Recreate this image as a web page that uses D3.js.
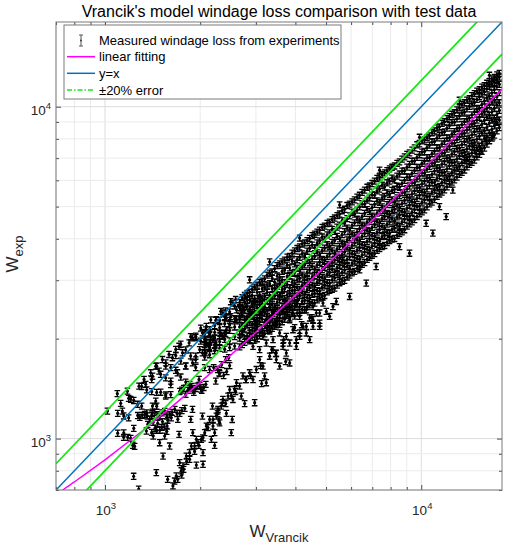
<!DOCTYPE html>
<html>
<head>
<meta charset="utf-8">
<script src="https://cdn.jsdelivr.net/npm/d3@7"></script>
<style>
  body { margin: 0; background: #fff; }
  text { font-family: "Liberation Sans", Arial, Helvetica, sans-serif; }
</style>
</head>
<body>
<svg id="chart" width="514" height="550"></svg>
<script>
// ---- data ----
const axisDomain = [700, 18000]
const majorTicks = [1000, 10000]
const errFrac = 0.021   // half height of each error bar, relative

const legendLabels = ['Measured windage loss from experiments', 'linear fitting', 'y=x', '\u00b120% error']

const identityLine = [[700, 700], [18000, 18000]]
const upperErrLine = [[700, 840], [18000, 21600]]
const lowerErrLine = [[700, 560], [18000, 14400]]
const fitLine = [[735, 700], [800, 740], [1000, 863], [1300, 1047], [1700, 1293], [2200, 1600], [3000, 2091],
    [4000, 2705], [5500, 3626], [7500, 4854], [10000, 6389], [13500, 8538], [18000, 11301]]

// sparse points left of the dense band (W_Vrancik, W_exp)
const scatterLeft = [
    [1018,1210],[1094,1366],[1121,1277],[1177,1390],[1206,1313],[1135,1210],[1281,1439],[1329,1508],[1345,1457],
    [1395,1579],[1413,1542],[1447,1653],[1482,1597],[1519,1731],[1556,1653],[1594,1793],[1634,1753],[1674,1856],
    [1715,1898],[1758,1814],[1845,1943],[1891,2012],[1936,2035],[2033,2084],[2084,1989],
    [1413,1253],[1447,1297],[1556,1343],[1614,1490],[1694,1579],[1800,1653],[1891,1692],[1936,1771],[2033,1814],
    [2134,1898],[2240,1943],[2353,2035],
    [1288,1159],[1335,1183],[1385,1143],[1437,1200],[1490,1167],[1545,1208],[1603,1183],[1662,1225],[1723,1191],
    [1788,1233],[1365,1104],[1468,1112],[1579,1135],[1699,1143],[1512,1081],[1457,1059],[1405,1044],[1568,1052],
    [1310,1175],[1360,1170],[1410,1190],[1460,1180],[1515,1195],[1570,1170],[1630,1200],[1690,1190],[1750,1215],
    [1420,1120],[1520,1125],[1620,1155],[1440,1075],[1490,1060],[1540,1085],
    [1723,1387],[1774,1416],[1827,1397],[1881,1436],[1936,1416],[1994,1446],[2053,1426],[1800,1359],[1909,1378],
    [2023,1397],[2084,1457],[1853,1457],[1750,1400],[1850,1420],[1960,1440],[2010,1410],[1900,1400],
    [1146,1009],[1180,1009],[1206,1002],[1224,955],[1241,948],[1232,770],[1278,704],
    [1715,1030],[1867,1143],[1891,1225],[2033,1169],[2187,1253],[2270,1210],[2295,1130],[2353,1283],[2240,1490],
    [2295,1579],[1983,1508]
]

// more points in the strip around y=x at the low end
const scatterLeft2 = [
    [1097,1192],[1097,1038],[1146,1170],[1146,1040],[1188,1322],[1188,1155],[1233,1303],[1233,1074],[1269,1269],
    [1269,1174],[1306,1436],[1306,1253],[1355,1402],[1355,1196],[1405,1506],[1405,1386],[1405,1176],[1457,1653],
    [1457,1378],[1457,1252],[1500,1563],[1500,1380],[1556,1691],[1556,1524],[1556,1355],[1614,1637],[1614,1454],
    [1614,1357],[1674,1780],[1674,1607],[1736,1925],[1736,1712],[1736,1533],[1800,1850],[1800,1656],[1800,1480],
    [1866,2028],[1866,1775],[1936,2017],[1936,1727],[1936,1638],[2008,2153],[2008,1966],[2083,2126],[2083,1814],
    [2160,2280],[2160,1987],[2240,2270],[2240,1884],[2323,2418],[2323,2072],[2408,2425],[2408,2068],[2497,2585],
    [2497,2330],[2589,2625],[2589,2287]
]

// points around the middle of the band
const scatterMid = [
    [2092,2178],[2142,2081],[2250,2282],[2360,2390],[2420,2310],[2538,2561],[2604,2445],
    [1992,1854],[2092,1941],[2195,1987],[2304,2081],[2360,2033],[2420,2129],[2478,2204],[2604,2282],[2665,2335],
    [2730,2445],[2797,2500],[2866,2390],[2937,2561],[3083,2531],
    [2797,2282],[2937,2335],[3010,2229],[3083,2362],[3158,2445],[3236,2282],[3316,2500],[3398,2390],[3481,2204],
    [3566,2310],[3654,2417],[3744,2500],[3836,2282],[3929,2390],[4026,2531],[4125,2335],[4227,2178],[4331,2445],
    [4437,2310],[4546,2500],[4658,2390],[4772,2229],[4890,2561],[5010,2417],[5132,2335],[5258,2500],[5388,2590],
    [2866,1987],[2937,1897],[3010,2081],[3083,1854],[3158,2033],[3236,1941],[3316,2129],[3398,1987],[3481,1810],
    [3566,2081],[3654,1941],[3744,2033],[3836,1690],[3929,2129],[4026,1897],[4125,2033],[4331,2081],[4437,1987],
    [4546,2178],[4772,2178],
    [2271,1615],[2337,1671],[2408,1730],[2462,1754],[2478,1660],[2426,1593],[2372,1549],[2304,1571],[2206,1637],
    [2142,1615],[2066,1637]
]

// the lower, steeper branch of the cloud
const lowerBranch = [
    [1640,720],[1660,745],[1680,772],[1722,847],[1743,800],[1765,827],[1808,886],[1852,866],[1852,907],[1875,950],
    [1920,950],[1945,995],[1968,972],[2016,995],[2041,907],[2041,837],[2066,1042],[2092,1091],[2142,1142],[2169,995],
    [2195,1091],[2222,1042],[2250,1169],[2277,1224],[2304,1116],[2332,1253],[2360,1312],[2420,1191],[2449,1343],
    [2478,1406],[2508,1042],[2538,1312],[2570,1406],[2604,1474],[2665,1440],[2698,1343],[2730,1545],[2797,1507],
    [2866,1579],[2937,1507],[2973,1283],[3010,1615],[3083,1730],[3158,1653],[3197,1545],[3236,1474],[3316,1771],
    [3398,1854],[3481,1730],[3566,1653],[3654,1897],[3744,1810],[3836,1941],[4026,1987],[4125,2081],[4331,2178],
    [4546,2282],[4772,2390],
    [1453,790],[1526,886],[1489,972],[1544,1018],[1601,950],[1895,1042],[1572,1091],[1420,1018],[1352,1054],
    [1698,754],[1773,808],[1812,854],[1920,915],[1980,955],[2041,1005],[2116,1080],[2195,1142],[2271,1190],
    [2408,1275],[2508,1349],[2587,1387],[2784,1507],[2887,1550],[3106,1660],[3365,1854],[3464,1805],[3672,1987],
    [3978,2159],[4186,2204],[4511,2314],[1578,754],[1748,776],[1945,832],[2222,954],[2525,1142],[2764,1275],
    [3128,1465],[3726,1707]
]

// stray points on the band edges
const edgePoints = [
    [5935,2681],[6700,2941],[7200,3300],[8537,3790],[9181,3620],[10360,4455],[10880,4160],[11418,5000],[12580,5610],
    [11990,4665],[13860,6905],[14900,7230],[16030,7930],[17240,9000],[16820,8120],[14550,7570],[15460,7400],
    [5640,3456],[6383,3225],
    [4125,4020],[5519,5060],[7382,6440],[9873,8090],[13205,10460],[16423,12440],[3316,3410],[2866,3010]
]

// dense band: [W_Vrancik, W_exp, W_exp, ...]
const bandColumns = [
    [2066,1760,1850,1920,1990,2070],
    [2142,1790,1880,1950,2060,2130],
    [2222,1840,1910,2010,2090,2190],
    [2304,1870,1960,2040,2160,2270],
    [2390,1860,1990,2080,2220,2330],
    [2478,1880,1970,2120,2270,2410],
    [2570,1900,2030,2170,2300,2510],
    [2665,1890,2010,2060,2170,2290,2330,2480,2570],
    [2764,1950,2000,2140,2230,2280,2440,2580,2700],
    [2866,1970,2080,2120,2240,2370,2460,2620,2760],
    [2973,1980,2100,2200,2270,2420,2560,2640,2860],
    [3083,2040,2090,2250,2360,2420,2620,2710,2950],
    [3197,2070,2190,2240,2410,2500,2680,2860,3030],
    [3316,2110,2240,2310,2480,2610,2700,2930,3150],
    [3439,2180,2250,2420,2500,2690,2840,2960,3250],
    [3566,2210,2360,2440,2620,2710,2920,3060,3360],
    [3698,2290,2370,2550,2640,2830,2950,3220,3450],
    [3836,2310,2450,2540,2740,2850,3100,3270,3540],
    [3978,2340,2500,2610,2800,2930,3170,3360,3680],
    [4125,2400,2500,2700,2810,3040,3200,3520,3780],
    [4278,2440,2610,2720,2940,3070,3340,3550,3890],
    [4437,2530,2640,2850,2970,3220,3390,3740,4010],
    [4601,2560,2740,2870,3100,3240,3540,3760,4130],
    [4772,2650,2780,3000,3140,3400,3580,3940,4250],
    [4949,2700,2900,3030,3280,3440,3750,3990,4370],
    [5132,2800,2940,3170,3310,3600,3800,4170,4490],
    [5323,2840,3050,3180,3450,3620,3950,4210,4620],
    [5519,2950,3090,3330,3490,3790,4000,4400,4750],
    [5724,3000,3220,3370,3650,3840,4200,4460,4910],
    [5935,3110,3260,3530,3700,4030,4250,4690,5090],
    [6155,3190,3430,3590,3890,4090,4470,4750,5240],
    [6383,3310,3470,3760,3940,4290,4530,4990,5410],
    [6620,3390,3650,3820,4150,4370,4770,5080,5610],
    [6864,3520,3690,4000,4200,4570,4830,5310,5770],
    [7119,3610,3880,4070,4420,4650,5080,5410,5970],
    [7382,3740,3930,4260,4470,4860,5150,5650,6140],
    [7656,3820,4100,4310,4670,4920,5370,5730,6320],
    [7939,3950,4150,4500,4730,5140,5440,5970,6500],
    [8233,4010,4310,4530,4910,5170,5640,6020,6630],
    [8537,4150,4360,4720,4970,5400,5720,6270,6820],
    [8853,4260,4580,4810,5220,5510,6000,6410,7060],
    [9181,4440,4670,5050,5320,5770,6120,6700,7260],
    [9521,4570,4900,5150,5580,5900,6420,6860,7520],
    [9873,4760,5010,5410,5710,6180,6560,7170,7730],
    [10239,4890,5240,5510,5970,6310,6860,7330,7950],
    [10618,5100,5370,5790,6110,6610,7020,7660,8170],
    [11011,5250,5620,5910,6400,6770,7350,7850,8460],
    [11418,5460,5750,6200,6540,7080,7520,8190,8700],
    [11841,5620,6020,6340,6850,7250,7870,8400,9010],
    [12279,5850,6170,6640,7010,7590,8060,8780,9330],
    [12734,6020,6440,6790,7330,7760,8410,8980,9590],
    [13205,6260,6610,7110,7510,8120,8630,9380,9930],
    [13694,6450,6900,7280,7850,8320,9010,9630,10280],
    [14200,6710,7080,7610,8040,8690,9240,10030,10570],
    [14726,6910,7390,7800,8410,8910,9650,10300,10950],
    [15271,7190,7590,8150,8610,9300,9890,10720,11260],
    [15836,7510,8020,8460,9100,9640,10410,11090,11580],
    [16423,7900,8340,8930,9420,10140,10760,11530,11910],
    [17031,8220,8760,9230,9900,10470,11260,11840,12250],
    [17661,8650,9120,9750,10280,11030,11680,12290,12600]
]

// points sitting between the columns above
const bandColumns2 = [
    [2714,1920,2070,2100,2190,2360,2400,2520,2660],
    [2815,1990,2040,2200,2290,2330,2500,2610,2740],
    [2919,2020,2120,2210,2350,2400,2540,2700,2820],
    [3027,2000,2170,2220,2300,2480,2590,2760,2900],
    [3140,2080,2140,2290,2400,2550,2650,2830,2980],
    [3256,2120,2230,2340,2430,2600,2760,2900,3110],
    [3377,2150,2280,2400,2530,2650,2830,3040,3180],
    [3502,2230,2320,2470,2580,2760,2880,3090,3320],
    [3632,2250,2420,2500,2680,2810,3010,3190,3410],
    [3767,2350,2420,2580,2710,2910,3080,3330,3520],
    [3906,2380,2510,2650,2790,2960,3150,3430,3620],
    [4051,2390,2550,2680,2850,3010,3260,3460,3740],
    [4201,2450,2590,2750,2900,3110,3300,3600,3860],
    [4357,2500,2660,2810,3010,3170,3440,3670,3950],
    [4519,2570,2720,2900,3070,3300,3480,3830,4090],
    [4686,2620,2790,2960,3160,3340,3630,3890,4190],
    [4860,2680,2860,3060,3230,3470,3690,4050,4330],
    [5040,2770,2950,3130,3350,3540,3840,4110,4450],
    [5227,2820,3010,3230,3400,3680,3900,4270,4570],
    [5420,2900,3120,3280,3520,3730,4070,4340,4700],
    [5621,2980,3170,3400,3590,3880,4120,4530,4860],
    [5829,3070,3300,3470,3750,3970,4310,4600,5040],
    [6044,3160,3380,3610,3820,4140,4390,4810,5170],
    [6268,3260,3490,3700,3970,4200,4580,4880,5340],
    [6500,3350,3580,3840,4070,4400,4670,5100,5520],
    [6741,3470,3720,3930,4240,4500,4900,5230,5720],
    [6990,3570,3810,4090,4330,4680,4970,5430,5870],
    [7249,3690,3960,4190,4500,4780,5200,5580,6080],
    [7518,3790,4060,4360,4610,4990,5310,5800,6240],
    [7796,3900,4180,4430,4770,5070,5500,5900,6420],
    [8084,3990,4270,4590,4860,5240,5600,6090,6570],
    [8384,4100,4400,4660,5020,5310,5760,6180,6750],
    [8694,4200,4500,4830,5110,5510,5880,6400,6950],
    [9015,4370,4680,4950,5340,5660,6140,6580,7180],
    [9349,4500,4810,5170,5460,5900,6300,6850,7400],
    [9695,4670,5000,5300,5690,6060,6550,7040,7680],
    [10054,4820,5160,5540,5860,6320,6750,7300,7890],
    [10427,4990,5350,5660,6100,6490,7010,7530,8070],
    [10813,5160,5540,5910,6250,6750,7220,7830,8350],
    [11212,5370,5700,6100,6540,6960,7510,8060,8630],
    [11627,5530,5920,6320,6720,7250,7730,8360,8910],
    [12058,5740,6100,6500,7000,7450,8040,8620,9210],
    [12504,5930,6350,6780,7210,7760,8280,8960,9490],
    [12967,6140,6540,6960,7480,7960,8600,9200,9790],
    [13447,6340,6800,7240,7690,8280,8840,9570,10160],
    [13945,6590,7030,7460,7990,8510,9180,9850,10470],
    [14461,6800,7260,7760,8230,8860,9450,10200,10800],
    [14996,7060,7520,7990,8580,9120,9830,10520,11140],
    [15551,7340,7780,8340,8850,9510,10150,10930,11460],
    [16127,7720,8160,8660,9300,9900,10640,11320,11770],
    [16724,8050,8540,9110,9640,10340,11000,11700,12130],
    [17343,8460,8970,9470,10120,10720,11500,12100,12470]
]

// ---- chart ----
const margin = { left: 56, right: 12, top: 22, bottom: 60 }
const width = 514, height = 550
const plotW = width - margin.left - margin.right
const plotH = height - margin.top - margin.bottom

const svg = d3.select('#chart')

const x = d3.scaleLog().domain(axisDomain).range([margin.left, margin.left + plotW])
const y = d3.scaleLog().domain(axisDomain).range([margin.top + plotH, margin.top])

const measured = scatterLeft.concat(scatterLeft2, scatterMid, lowerBranch, edgePoints)
bandColumns.concat(bandColumns2).forEach(row => row.slice(1).forEach(v => measured.push([row[0], v])))

svg.append('rect').attr('width', width).attr('height', height).attr('fill', '#fff')

svg.append('defs').append('clipPath').attr('id', 'plotClip')
    .append('rect')
    .attr('x', margin.left).attr('y', margin.top)
    .attr('width', plotW).attr('height', plotH)

const allTicks = x.ticks().filter(d => d >= axisDomain[0] && d <= axisDomain[1])
const minorTicks = allTicks.filter(d => !majorTicks.includes(d))

// grid
const grid = svg.append('g')
grid.selectAll('line.gx').data(allTicks).join('line')
    .attr('x1', d => x(d)).attr('x2', d => x(d))
    .attr('y1', margin.top).attr('y2', margin.top + plotH)
    .attr('stroke', d => majorTicks.includes(d) ? '#dcdcdc' : '#ebebeb')
    .attr('stroke-width', 1)
grid.selectAll('line.gy').data(allTicks).join('line')
    .attr('y1', d => y(d)).attr('y2', d => y(d))
    .attr('x1', margin.left).attr('x2', margin.left + plotW)
    .attr('stroke', d => majorTicks.includes(d) ? '#dcdcdc' : '#ebebeb')
    .attr('stroke-width', 1)

// measured points with error bars
const plot = svg.append('g').attr('clip-path', 'url(#plotClip)')
const capW = 2.8
plot.append('g').selectAll('path').data(measured).join('path')
    .attr('d', d => {
        const cx = x(d[0])
        const lo = y(d[1] * (1 - errFrac)), hi = y(d[1] * (1 + errFrac))
        return `M${cx},${lo}V${hi}M${cx - capW},${lo}h${2 * capW}M${cx - capW},${hi}h${2 * capW}`
    })
    .attr('stroke', '#000')
    .attr('stroke-width', 1.3)
    .attr('fill', 'none')
plot.append('g').selectAll('circle').data(measured).join('circle')
    .attr('cx', d => x(d[0]))
    .attr('cy', d => y(d[1]))
    .attr('r', 1.6)
    .attr('fill', '#000')

const line = d3.line().x(d => x(d[0])).y(d => y(d[1]))

plot.append('path').datum(fitLine).attr('d', line)
    .attr('fill', 'none').attr('stroke', '#ff00ff').attr('stroke-width', 1.5)
plot.append('path').datum(identityLine).attr('d', line)
    .attr('fill', 'none').attr('stroke', '#0072bd').attr('stroke-width', 1.5)
plot.selectAll('path.err').data([upperErrLine, lowerErrLine]).join('path')
    .attr('class', 'err')
    .attr('d', line)
    .attr('fill', 'none').attr('stroke', '#19e619').attr('stroke-width', 1.8)

// axes (ticks pointing inward)
function addAxis(axisFn, scale, transform, values, size) {
    const g = svg.append('g').attr('transform', transform)
        .call(axisFn(scale).tickValues(values).tickSize(size).tickFormat(''))
    g.select('.domain').remove()
    g.selectAll('.tick line').attr('stroke', '#4d4d4d')
    return g
}
addAxis(d3.axisBottom, x, `translate(0,${margin.top + plotH})`, majorTicks, -5)
addAxis(d3.axisBottom, x, `translate(0,${margin.top + plotH})`, minorTicks, -3)
addAxis(d3.axisTop, x, `translate(0,${margin.top})`, majorTicks, -5)
addAxis(d3.axisTop, x, `translate(0,${margin.top})`, minorTicks, -3)
addAxis(d3.axisLeft, y, `translate(${margin.left},0)`, majorTicks, -5)
addAxis(d3.axisLeft, y, `translate(${margin.left},0)`, minorTicks, -3)
addAxis(d3.axisRight, y, `translate(${margin.left + plotW},0)`, majorTicks, -5)
addAxis(d3.axisRight, y, `translate(${margin.left + plotW},0)`, minorTicks, -3)

svg.append('rect')
    .attr('x', margin.left).attr('y', margin.top)
    .attr('width', plotW).attr('height', plotH)
    .attr('fill', 'none').attr('stroke', '#7a7a7a').attr('stroke-width', 1)

// tick labels as 10^n
function powerLabel(sel) {
    sel.append('tspan').attr('font-size', 13.5).text('10')
    sel.append('tspan').attr('font-size', 9.5).attr('dy', -6).text(d => Math.round(Math.log10(d)))
}
svg.append('g').selectAll('text').data(majorTicks).join('text')
    .attr('x', d => x(d) + 1).attr('y', margin.top + plotH + 25)
    .attr('text-anchor', 'middle').attr('fill', '#262626')
    .call(powerLabel)
svg.append('g').selectAll('text').data(majorTicks).join('text')
    .attr('x', margin.left - 5).attr('y', d => y(d) + 8)
    .attr('text-anchor', 'end').attr('fill', '#262626')
    .call(powerLabel)

// axis titles
const xTitle = svg.append('text')
    .attr('x', margin.left + plotW / 2).attr('y', 537)
    .attr('text-anchor', 'middle').attr('fill', '#262626')
xTitle.append('tspan').attr('font-size', 17).text('W')
xTitle.append('tspan').attr('font-size', 13).attr('dy', 5).text('Vrancik')

const yTitle = svg.append('text')
    .attr('transform', `translate(18,${margin.top + plotH / 2 - 2}) rotate(-90)`)
    .attr('text-anchor', 'middle').attr('fill', '#262626')
yTitle.append('tspan').attr('font-size', 17).text('W')
yTitle.append('tspan').attr('font-size', 13).attr('dy', 5).text('exp')

svg.append('text')
    .attr('x', margin.left + plotW / 2).attr('y', 17)
    .attr('text-anchor', 'middle').attr('font-size', 16).attr('fill', '#000')
    .text("Vrancik's model windage loss comparison with test data")

// legend
const legend = svg.append('g')
legend.append('rect')
    .attr('x', 64).attr('y', 25).attr('width', 277).attr('height', 74)
    .attr('fill', '#fff').attr('stroke', '#7a7a7a').attr('stroke-width', 1)

const rowY = [40.5, 56.7, 73.3, 90]
legend.selectAll('text').data(legendLabels).join('text')
    .attr('x', 99).attr('y', (d, i) => rowY[i] + 4.5)
    .attr('font-size', 13).attr('fill', '#000')
    .text(d => d)

// error bar icon
legend.append('path')
    .attr('d', `M81,${rowY[0] - 5.5}V${rowY[0] + 5.5}M79,${rowY[0] - 5.5}h4M79,${rowY[0] + 5.5}h4`)
    .attr('stroke', '#555').attr('stroke-width', 1).attr('fill', 'none')
legend.append('circle').attr('cx', 81).attr('cy', rowY[0]).attr('r', 0.9).attr('fill', '#333')

const swatches = [
    { color: '#ff00ff', dash: null },
    { color: '#0072bd', dash: null },
    { color: '#19e619', dash: '5,2,1.5,2' }
]
legend.selectAll('line.sw').data(swatches).join('line')
    .attr('x1', 67).attr('x2', 95)
    .attr('y1', (d, i) => rowY[i + 1]).attr('y2', (d, i) => rowY[i + 1])
    .attr('stroke', d => d.color).attr('stroke-width', 1.5)
    .attr('stroke-dasharray', d => d.dash)
</script>
</body>
</html>
